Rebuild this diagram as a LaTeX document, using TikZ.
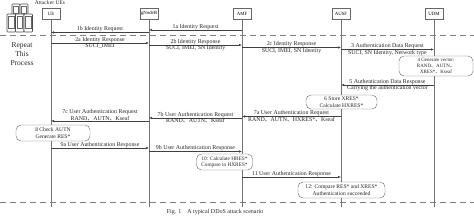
\documentclass[tikz,border=0pt]{standalone}
\usepackage{fontspec}
\setmainfont{Liberation Serif}
\newfontfamily\cjk{Noto Sans CJK SC}
\newcommand\ideocomma{{\cjk 、}}
\usetikzlibrary{arrows.meta}
\begin{document}
\begin{tikzpicture}[x=1pt,y=-1pt,
  ent/.style={draw=black!60, fill=white, minimum width=18pt, minimum height=11pt, inner sep=0pt, font=\fontsize{4.8}{5}\selectfont},
  life/.style={draw=black!55, line width=0.6pt},
  msg/.style={draw=black!75, line width=0.5pt, -{Latex[length=3pt,width=2.4pt]}},
  lbl/.style={font=\fontsize{5.9}{6.2}\selectfont, inner sep=0.4pt, text=black!85},
  act/.style={draw=black!60, fill=white, rounded corners=5pt, align=center, inner sep=0.5pt, font=\fontsize{5.6}{6.6}\selectfont, text=black!85},
  sep/.style={draw=black!50, line width=0.7pt, dash pattern=on 6pt off 4pt},
  phone/.style={draw=black!70, fill=white, line width=0.6pt, rounded corners=0.8pt},
  scr/.style={draw=black!60, line width=0.4pt}
]
\useasboundingbox (0,0) rectangle (474,219);

% attacker icon
\foreach \x in {12,20}{
  \draw[phone] (\x,4) rectangle ++(8,12);
  \draw[scr] (\x+1.5,6) rectangle ++(5,7);
}
\foreach \x in {7,15.5,24}{
  \draw[phone] (\x,14) rectangle ++(8.5,18);
  \draw[scr] (\x+1.5,16.5) rectangle ++(5.5,12);
}
\node[font=\fontsize{5.6}{6}\selectfont, text=black!85] (att) at (50,3) {Attacker UEs};

% entities
\node[ent] (ue)   at (51,13.5)  {UE};
\node[ent] (gnb)  at (149,13.5) {gNodeB};
\node[ent] (amf)  at (242,13.5) {AMF};
\node[ent] (ausf) at (341,13.5) {AUSF};
\node[ent] (udm)  at (434,13.5) {UDM};

\coordinate (ueE)   at (51,207);
\coordinate (gnbE)  at (149,207);
\coordinate (amfE)  at (242,207);
\coordinate (ausfE) at (341,207);
\coordinate (udmE)  at (434,207);
\draw[life] (ue) -- (ueE);
\draw[life] (gnb) -- (gnbE);
\draw[life] (amf) -- (amfE);
\draw[life] (ausf) -- (ausfE);
\draw[life] (udm) -- (udmE);

% separators
\coordinate (s1a) at (0,35);  \coordinate (s1b) at (474,35);
\coordinate (s2a) at (0,202); \coordinate (s2b) at (474,202);
\draw[sep] (s1a) -- (s1b);
\draw[sep] (s2a) -- (s2b);

\node[align=center, font=\fontsize{7.5}{9}\selectfont, text=black!85] (rep) at (22,54) {Repeat\\This\\Process};

% messages
\draw[msg] (amf |- 0,30) -- node[above,lbl] {1a Identity Request} (gnb |- 0,30);
\draw[msg] (gnb |- 0,32.5) -- node[above,lbl] {1b Identity Request} (ue |- 0,32.5);

\draw[msg] (ue |- 0,43) -- node[above,lbl] {2a Identity Response} node[below,lbl] {SUCI\_IMEI} (gnb |- 0,43);
\draw[msg] (gnb |- 0,45) -- node[above,lbl] {2b Identity Response} node[below,lbl] {SUCI, IMEI, SN Identity} (amf |- 0,45);
\draw[msg] (amf |- 0,47.5) -- node[above,lbl] {2c Identity Response} node[below,lbl] {SUCI, IMEI, SN Identity} (ausf |- 0,47.5);
\draw[msg] (ausf |- 0,49.5) -- node[above,lbl] {3 Authentication Data Request} node[below,lbl] {SUCI, SN Identity, Network type} (udm |- 0,49.5);

\node[act, minimum width=74pt, minimum height=20pt, font=\fontsize{5}{6}\selectfont] (gen) at (436,66) {4 Generate vector:\\RAND\ideocomma AUTN\ideocomma\\XRES*\ideocomma Kseaf};

\draw[msg] (udm |- 0,85) -- node[above,lbl] {5 Authentication Data Response} node[below,lbl] {Carrying the authentication vector} (ausf |- 0,85);

\node[act, minimum width=71pt, minimum height=14pt] (store) at (341.5,102) {6 Store XRES*\\Calculate HXRES*};

\draw[msg] (ausf |- 0,116.5) -- node[above,lbl] {7a User Authentication Request} node[below,lbl] {RAND\ideocomma AUTN\ideocomma HXRES*\ideocomma Kseaf} (amf |- 0,116.5);
\draw[msg] (amf |- 0,118) -- node[above,lbl] {7b User Authentication Request} node[below,lbl] {RAND\ideocomma AUTN\ideocomma Kseaf} (gnb |- 0,118);
\draw[msg] (gnb |- 0,121) -- node[above,lbl,yshift=6pt] {7c User Authentication Request} node[above,lbl] {RAND\ideocomma AUTN\ideocomma Kseaf} (ue |- 0,121);

\node[act, minimum width=74pt, minimum height=16pt] (chk) at (53,133) {8 Check AUTN\\Generate RES*};

\draw[msg] (ue |- 0,148) -- node[above,lbl] {9a User Authentication Response} (gnb |- 0,148);
\draw[msg] (gnb |- 0,151.5) -- node[above,lbl] {9b User Authentication Response} (amf |- 0,151.5);

\node[act, minimum width=56pt, minimum height=16pt, font=\fontsize{5.3}{6.4}\selectfont] (calc) at (224.5,162) {10: Calculate HRES*\\Compare to HXRES*};

\draw[msg] (amf |- 0,177) -- node[above,lbl] {11 User Authentication Response} (ausf |- 0,177);

\node[act, minimum width=87pt, minimum height=16pt] (cmp) at (341.5,190) {12: Compare RES* and XRES*\\Authentication succeeded};

\node[font=\fontsize{6}{7}\selectfont, text=black!85] (cap) at (215,212.5) {Fig. 1\quad A typical DDoS attack scenario};
\end{tikzpicture}
\end{document}
